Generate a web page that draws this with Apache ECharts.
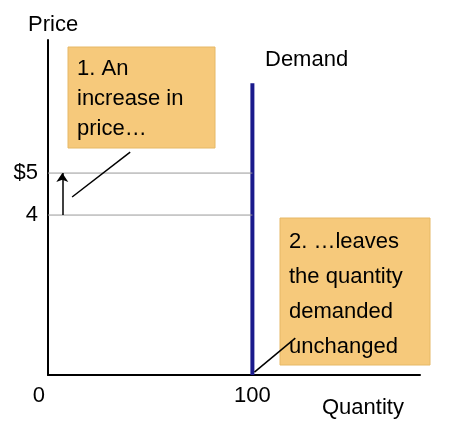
<!DOCTYPE html>
<html><head><meta charset="utf-8">
<script src="https://cdn.jsdelivr.net/npm/echarts@6/dist/echarts.min.js"></script>
<style>html,body{margin:0;background:#fff}#c{width:474px;height:433px}</style>
</head><body><div id="c"></div>
<script>
const xTicks=[0,100];
const yTicks=[4,5];
const demandQty=100;
const demandPrice=[0.19,7.14];
const priceOld=4, priceNew=5;
const FONT='Liberation Sans, Arial, sans-serif';
const chart=echarts.init(document.getElementById('c'));
chart.setOption({
  animation:false,
  grid:{left:48,right:54,top:40,bottom:58},
  xAxis:{type:'value',min:0,max:182,
    axisLine:{lineStyle:{color:'#000',width:2}},splitLine:{show:false},axisTick:{show:false},
    axisLabel:{customValues:xTicks,color:'#000',fontSize:22,fontFamily:FONT,margin:10,
      formatter:v=>v===0?'0   ':String(v)}},
  yAxis:{type:'value',min:0.19,max:8.17,
    axisLine:{show:true,lineStyle:{color:'#000',width:2}},splitLine:{show:false},axisTick:{show:false},
    axisLabel:{customValues:yTicks,color:'#000',fontSize:22,fontFamily:FONT,margin:10,
      formatter:v=>v===5?'$5':String(v)}},
  series:[
    {type:'line',data:[[demandQty,demandPrice[0]],[demandQty,demandPrice[1]]],symbol:'none',
     lineStyle:{color:'#1a1a8c',width:4}},
    {type:'line',data:[[0,priceNew],[demandQty,priceNew]],symbol:'none',lineStyle:{color:'#999',width:1}},
    {type:'line',data:[[0,priceOld],[demandQty,priceOld]],symbol:'none',lineStyle:{color:'#999',width:1}},
    {type:'line',data:[],markLine:{silent:true,animation:false,
      data:[
        [{coord:[7,priceOld],symbol:'none'},{coord:[7,priceNew],symbol:'arrow',symbolSize:9}],
        [{coord:[11.8,4.43],symbol:'none'},{coord:[40.2,5.5],symbol:'none'}],
        [{coord:[101,0.26],symbol:'none'},{coord:[121,1.07],symbol:'none'}]
      ],
      lineStyle:{color:'#000',width:1.5,type:'solid'},label:{show:false}}}
  ],
  graphic:[
    {type:'text',left:28,top:14,style:{text:'Price',font:'22px '+FONT,fill:'#000'}},
    {type:'text',left:322,top:397,style:{text:'Quantity',font:'22px '+FONT,fill:'#000'}},
    {type:'text',left:265,top:49,style:{text:'Demand',font:'22px '+FONT,fill:'#000'}},
    {type:'rect',shape:{x:68,y:47,width:147,height:101},style:{fill:'#f6c97b',stroke:'#e6b866'}},
    {type:'text',left:77,top:54,style:{text:'1. An\nincrease in\nprice…',font:'22px '+FONT,lineHeight:30,fill:'#000'}},
    {type:'rect',shape:{x:280,y:218,width:150,height:147},style:{fill:'#f6c97b',stroke:'#e6b866'}},
    {type:'text',left:289,top:224,style:{text:'2. …leaves\nthe quantity\ndemanded\nunchanged',font:'22px '+FONT,lineHeight:35,fill:'#000'}}
  ]
});
</script></body></html>
